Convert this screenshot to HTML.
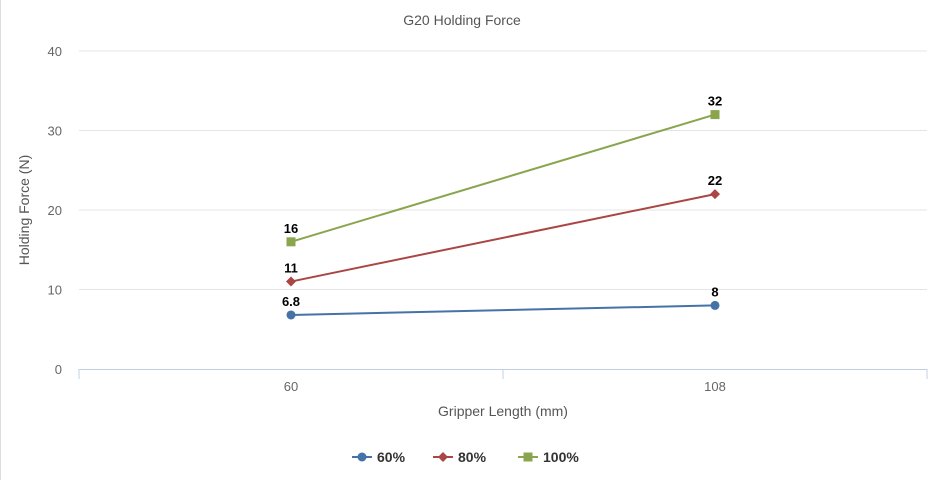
<!DOCTYPE html>
<html><head><meta charset="utf-8"><style>
body{margin:0;background:#fff;}
svg{display:block;font-family:"Liberation Sans",sans-serif;}
</style></head><body>
<svg id="chart" width="947" height="480">
<line x1="0.5" y1="0" x2="0.5" y2="480" stroke="#ddd"/>
<text x="462" y="25" text-anchor="middle" font-size="14" fill="#555">G20 Holding Force</text>
<text transform="translate(29,210) rotate(-90)" text-anchor="middle" font-size="14" fill="#555">Holding Force (N)</text>
<text x="503" y="416" text-anchor="middle" font-size="14" fill="#555">Gripper Length (mm)</text>
<g id="grid"></g><g id="series"></g><g id="legend"></g>
</svg>
<script>
const categories=["60","108"];
const yTicks=[0,10,20,30,40];
const seriesNames=["60%","80%","100%"];
const s60=[6.8,8];
const s80=[11,22];
const s100=[16,32];
const colors=["#4572a7","#aa4643","#89a54e"];
const NS="http://www.w3.org/2000/svg";
const L=79,R=927,T=51,B=369;
function x(i){return L+(R-L)/categories.length*(i+0.5);}
function y(v){return B-(B-T)*v/40;}
function mk(t,a,p){const e=document.createElementNS(NS,t);for(const k in a)e.setAttribute(k,a[k]);p.appendChild(e);return e;}
const grid=document.getElementById('grid');
yTicks.forEach(v=>{
 if(v>0){const g=mk('line',{x1:L,x2:R,y1:y(v),y2:y(v),stroke:'#e4e4e4'},grid);
 
 }
 const t=mk('text',{x:62,y:y(v)+5,'text-anchor':'end','font-size':13,fill:'#666'},grid);t.textContent=v;
 
 
});
const ax=mk('line',{x1:L,x2:R,y1:B+0.5,y2:B+0.5,stroke:'#c0d0e0'},grid);


for(let i=0;i<=categories.length;i++){const tx=L+(R-L)/categories.length*i;
 const tk=mk('line',{x1:tx,x2:tx,y1:B,y2:B+10,stroke:'#c0d0e0'},grid);
 
 }
categories.forEach((c,i)=>{const t=mk('text',{x:x(i),y:391,'text-anchor':'middle','font-size':13,fill:'#666'},grid);t.textContent=c;
 
 });
function marker(shape,cx,cy,col,p){
 if(shape==0)return mk('circle',{cx:cx,cy:cy,r:4.5,fill:col},p);
 if(shape==1)return mk('path',{d:`M${cx} ${cy-5}L${cx+5} ${cy}L${cx} ${cy+5}L${cx-5} ${cy}Z`,fill:col},p);
 return mk('rect',{x:cx-4.5,y:cy-4.5,width:9,height:9,fill:col},p);
}
const sg=document.getElementById('series');
[s60,s80,s100].forEach((d,si)=>{
 const g=mk('g',{},sg);
 
 
 mk('path',{d:d.map((v,i)=>(i?'L':'M')+x(i)+' '+y(v)).join(''),stroke:colors[si],'stroke-width':2,fill:'none'},g);
 d.forEach((v,i)=>{const m=marker(si,x(i),y(v),colors[si],g);
  
  
  const t=mk('text',{x:x(i),y:y(v)-9,'text-anchor':'middle','font-size':13,'font-weight':'bold',fill:'#000'},g);t.textContent=v;
  
  });
});
const lg=document.getElementById('legend');
const lx=[352,433,518];
seriesNames.forEach((n,si)=>{
 const g=mk('g',{},lg);
 
 
 mk('line',{x1:lx[si],x2:lx[si]+20,y1:457,y2:457,stroke:colors[si],'stroke-width':2},g);
 marker(si,lx[si]+10,457,colors[si],g);
 const t=mk('text',{x:lx[si]+25,y:462,'font-size':14,'font-weight':'bold',fill:'#333'},g);t.textContent=n;
});
</script>
</body></html>
